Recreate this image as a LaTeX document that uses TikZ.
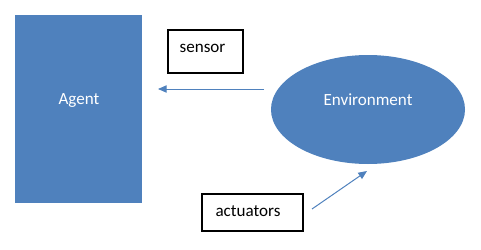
\documentclass[tikz,border=0pt]{standalone}
\usepackage{fontspec}
\setmainfont{Carlito}
\usetikzlibrary{arrows.meta,shapes.geometric}
\definecolor{ink}{HTML}{000000}
\definecolor{officeblue}{HTML}{4F81BD}
\tikzset{
  block/.style={fill=officeblue,draw=none},
  tag/.style={fill=white,draw=ink,line width=0.9bp},
  inlabel/.style={text=white,font=\fontsize{12.8bp}{15bp}\selectfont},
  label/.style={text=ink,font=\fontsize{12.8bp}{15bp}\selectfont},
  arrow/.style={draw=officeblue,line width=0.75bp,-{Triangle[length=6.5bp,width=5.5bp]}}
}
\begin{document}
\begin{tikzpicture}[x=0.75bp,y=-0.75bp,every node/.style={inner sep=0pt,outer sep=0pt}]
\path[use as bounding box] (0,0) rectangle (481,250);

\node[block,rectangle,minimum width=95.25bp,minimum height=141bp] (agent) at (78.5,109) {};
\node[inlabel] (agent-label) at (79,100) {Agent};

\node[block,ellipse,minimum width=145.5bp,minimum height=81.75bp] (env) at (368,109.5) {};
\node[inlabel] (env-label) at (368,100) {Environment};

\node[tag,minimum width=56.25bp,minimum height=32.25bp] (sensor) at (205.5,51.5) {};
\node[label] (sensor-label) at (202.5,48) {sensor};

\node[tag,minimum width=75.75bp,minimum height=27.75bp] (actuators) at (252.5,212.5) {};
\node[label] (actuators-label) at (248,211) {actuators};

\coordinate (sense-from) at (264,89);
\coordinate (sense-to) at (158,89);
\coordinate (act-from) at (312,209);
\coordinate (act-to) at (367,171);
\draw[arrow] (sense-from) -- (sense-to);
\draw[arrow] (act-from) -- (act-to);
\end{tikzpicture}
\end{document}
